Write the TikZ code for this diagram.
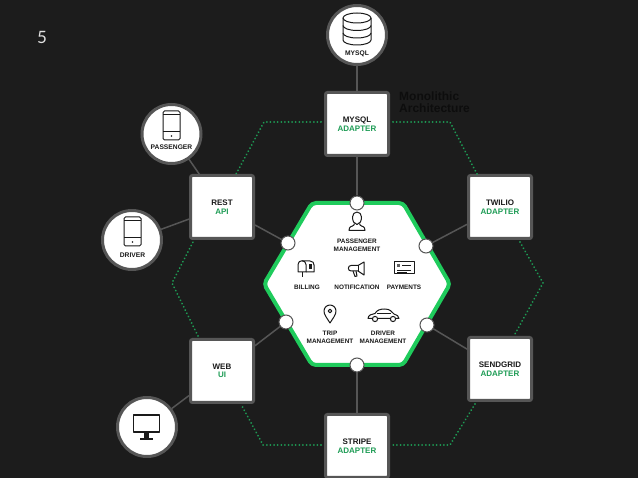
\documentclass[tikz,border=0pt]{standalone}
\usepackage{fontspec}
\setmainfont{Liberation Sans}
\newfontfamily\numfont{Lato}
\usepackage{xcolor}
\usetikzlibrary{positioning, calc}
\definecolor{slidebg}{HTML}{1C1C1C}
\definecolor{framegray}{HTML}{565656}
\definecolor{hexgreen}{HTML}{1FCB5C}
\definecolor{textgreen}{HTML}{1E9C55}
\definecolor{inkblack}{HTML}{1A1A1A}

\begin{document}
\begin{tikzpicture}[
		x=1pt, y=-1pt,
		% Defining node styles
		adapter/.style={rectangle, rounded corners=2pt, draw=framegray, line width=3pt, fill=white, minimum size=63pt, inner sep=0pt, align=center, text=inkblack, font=\fontsize{8}{8.5}\selectfont\bfseries},
		extern/.style={circle, draw=framegray, line width=3pt, fill=white, minimum size=59pt, inner sep=0pt},
		port/.style={circle, draw=framegray, line width=1pt, fill=white, minimum size=14pt, inner sep=0pt},
		link/.style={draw=framegray, line width=1.5pt},
		dotline/.style={draw=textgreen, line width=2pt, line cap=round, dash pattern=on 0.01pt off 3.6pt},
		icon/.style={draw=inkblack, line width=1pt, line join=round},
		extlabel/.style={text=inkblack, inner sep=0pt, font=\fontsize{6.7}{8}\selectfont\bfseries},
		hexlabel/.style={text=inkblack, inner sep=0pt, align=center, font=\fontsize{6.4}{8}\selectfont\bfseries},
		phoneicon/.pic={
			\draw[icon, rounded corners=1.5pt] (-8.5,-14.5) rectangle (8.5,14.5);
			\draw[icon] (-8.5,-10.5) -- (8.5,-10.5) (-8.5,6.5) -- (8.5,6.5);
			\fill[inkblack] (0,10.5) circle (0.8);
		}
	]

	\useasboundingbox (0,0) rectangle (638,478);
	\fill[slidebg] (0,0) rectangle (638,478);

	% Placing the adapters
	\node[adapter] (mysqlAdapter) at (357,124) {MYSQL\\\textcolor{textgreen}{ADAPTER}};
	\node[adapter] (restApi) at (222,207) {REST\\\textcolor{textgreen}{API}};
	\node[adapter] (webUi) at (222,371) {WEB\\\textcolor{textgreen}{UI}};
	\node[adapter] (twilioAdapter) at (500,207) {TWILIO\\\textcolor{textgreen}{ADAPTER}};
	\node[adapter] (sendgridAdapter) at (500,369) {SENDGRID\\\textcolor{textgreen}{ADAPTER}};
	\node[adapter] (stripeAdapter) at (357,446) {STRIPE\\\textcolor{textgreen}{ADAPTER}};

	% Placing the outer circles
	\node[extern] (mysqlDb) at (357,35) {};
	\node[extern] (passenger) at (171.5,134) {};
	\node[extern] (driver) at (132,240) {};
	\node[extern] (desktop) at (147,427) {};

	% Core hexagon
	\draw[draw=hexgreen, line width=4pt, fill=white, rounded corners=4pt] (312,203) -- (403,203) -- (450,284) -- (403,365) -- (312,365) -- (264,284) -- cycle;

	% Ports on the hexagon
	\node[port] (portTop) at (357,203) {};
	\node[port] (portLeft) at (288,243) {};
	\node[port] (portRight) at (426,246) {};
	\node[port] (portLowLeft) at (286,322) {};
	\node[port] (portLowRight) at (427,325) {};
	\node[port] (portBottom) at (357,365) {};

	% Drawing connections
	\draw[link] (mysqlDb) -- (mysqlAdapter);
	\draw[link] (mysqlAdapter) -- (portTop);
	\draw[link] (passenger) -- (restApi);
	\draw[link] (driver) -- (restApi);
	\draw[link] (restApi) -- (portLeft);
	\draw[link] (desktop) -- (webUi);
	\draw[link] (webUi) -- (portLowLeft);
	\draw[link] (twilioAdapter) -- (portRight);
	\draw[link] (sendgridAdapter) -- (portLowRight);
	\draw[link] (stripeAdapter) -- (portBottom);

	% Dotted outer hexagon
	\coordinate (bendTL) at (264,122);
	\coordinate (bendTR) at (450,122);
	\coordinate (bendR) at (543,283);
	\coordinate (bendBR) at (450,445);
	\coordinate (bendBL) at (263,445);
	\coordinate (bendL) at (172,283);
	\draw[dotline] ([yshift=2pt,xshift=3pt]mysqlAdapter.east) -- (bendTR) -- ([xshift=-22pt,yshift=-2pt]twilioAdapter.north);
	\draw[dotline] ([yshift=2pt,xshift=-3pt]mysqlAdapter.west) -- (bendTL) -- ([xshift=13pt,yshift=-2pt]restApi.north);
	\draw[dotline] ([xshift=20pt,yshift=-2pt]twilioAdapter.south) -- (bendR) -- ([xshift=15pt,yshift=2pt]sendgridAdapter.north);
	\draw[dotline] ([xshift=-25pt,yshift=-2pt]sendgridAdapter.south) -- (bendBR) -- ([xshift=3pt,yshift=1pt]stripeAdapter.east);
	\draw[dotline] ([xshift=-3pt,yshift=1pt]stripeAdapter.west) -- (bendBL) -- ([xshift=20pt,yshift=-2pt]webUi.south);
	\draw[dotline] ([xshift=-24pt,yshift=2pt]webUi.north) -- (bendL) -- ([xshift=-29pt,yshift=-2pt]restApi.south);

	% Database icon
	\draw[icon, fill=white] (343,18) -- (343,40) arc[start angle=180, end angle=0, x radius=14, y radius=5] -- (371,18);
	\draw[icon] (357,18) ellipse[x radius=14, y radius=5];
	\draw[icon] (343,25.5) arc[start angle=180, end angle=0, x radius=14, y radius=5];
	\draw[icon] (343,33) arc[start angle=180, end angle=0, x radius=14, y radius=5];
	\node[extlabel] (mysqlText) at (357,53.5) {MYSQL};

	% Phones
	\pic at (171.5,125.5) {phoneicon};
	\node[extlabel] (passengerText) at (171.5,147.5) {PASSENGER};
	\pic at (132.5,231.5) {phoneicon};
	\node[extlabel] (driverText) at (132.5,255) {DRIVER};

	% Desktop icon
	\draw[icon, line width=1.2pt] (133.5,415) rectangle (159.5,432);
	\fill[inkblack] (144,432) rectangle (149,438);
	\fill[inkblack] (140,438) rectangle (153,440.5);

	% Person icon
	\draw[icon] (352.5,217) arc[start angle=180, end angle=360, x radius=4.5, y radius=5] .. controls (361.5,221) and (360,224) .. (357,224.5) .. controls (354,224) and (352.5,221) .. (352.5,217) -- cycle;
	\draw[icon] (354.5,223.5) .. controls (354.5,226.5) and (350,226) .. (349.5,228) -- (349,230.5) -- (365,230.5) -- (364.5,228) .. controls (364,226) and (359.5,226.5) .. (359.5,223.5);

	% Mailbox icon
	\draw[icon] (298,272) -- (298,264.5) .. controls (298,259.5) and (306,259.5) .. (306,264.5) -- (306,272) -- cycle;
	\draw[icon] (302,261) -- (310,261) .. controls (313,261) and (314,263) .. (314,265) -- (314,272) -- (306,272);
	\draw[icon] (302,272) -- (302,277);
	\fill[inkblack] (309,264) rectangle (312,269);

	% Megaphone icon
	\draw[icon] (351,265.5) -- (358,265.5) -- (364,262) -- (364,275) -- (358,271) -- (351,271) .. controls (347.5,271) and (347.5,265.5) .. (351,265.5) -- cycle;
	\draw[icon] (358,265.5) -- (358,271);
	\draw[icon] (353,271) -- (355,276.5) -- (357,276) -- (356,271);

	% Payment card icon
	\draw[icon, fill=white] (394,262) rectangle (414,274);
	\fill[inkblack!70] (397,264.5) rectangle (400,267.5);
	\draw[icon, line width=0.4pt] (402,265) -- (411,265) (397,270) -- (411,270) (397,272) -- (407,272);

	% Pin icon
	\draw[icon] (330,323) .. controls (327,318) and (324,315) .. (324,311) arc[start angle=180, end angle=360, radius=6] .. controls (336,315) and (333,318) .. (330,323) -- cycle;
	\draw[icon] (330,311) circle (1.8);

	% Car icon
	\draw[icon] (368,318.5) .. controls (368,315) and (372,314) .. (375,313.5) .. controls (377,310) and (380,309) .. (385,309) .. controls (390,309) and (392,312) .. (394,314) .. controls (397,315) and (399,316) .. (399,318.5) -- cycle;
	\draw[icon, fill=white] (375,319) circle (2.6);
	\draw[icon, fill=white] (393,319) circle (2.6);
	\draw[icon] (377,313.5) -- (391,313.5);

	% Core labels
	\node[hexlabel] (passengerMgmt) at (357,245) {PASSENGER\\MANAGEMENT};
	\node[hexlabel] (billingText) at (307,287) {BILLING};
	\node[hexlabel] (notificationText) at (357,287) {NOTIFICATION};
	\node[hexlabel] (paymentsText) at (404,287) {PAYMENTS};
	\node[hexlabel] (tripMgmt) at (330,337) {TRIP\\MANAGEMENT};
	\node[hexlabel] (driverMgmt) at (383,337) {DRIVER\\MANAGEMENT};

	% Slide texts
	\node[anchor=west, inner sep=0pt, align=left, text=black!95, font=\fontsize{12}{12.5}\selectfont\bfseries] (monolith) at (399,102) {Monolithic\\Architecture};
	\node[text=white!88!black, inner sep=0pt, font=\fontsize{17}{17}\selectfont\numfont] (pageNo) at (42,37) {5};

\end{tikzpicture}
\end{document}
